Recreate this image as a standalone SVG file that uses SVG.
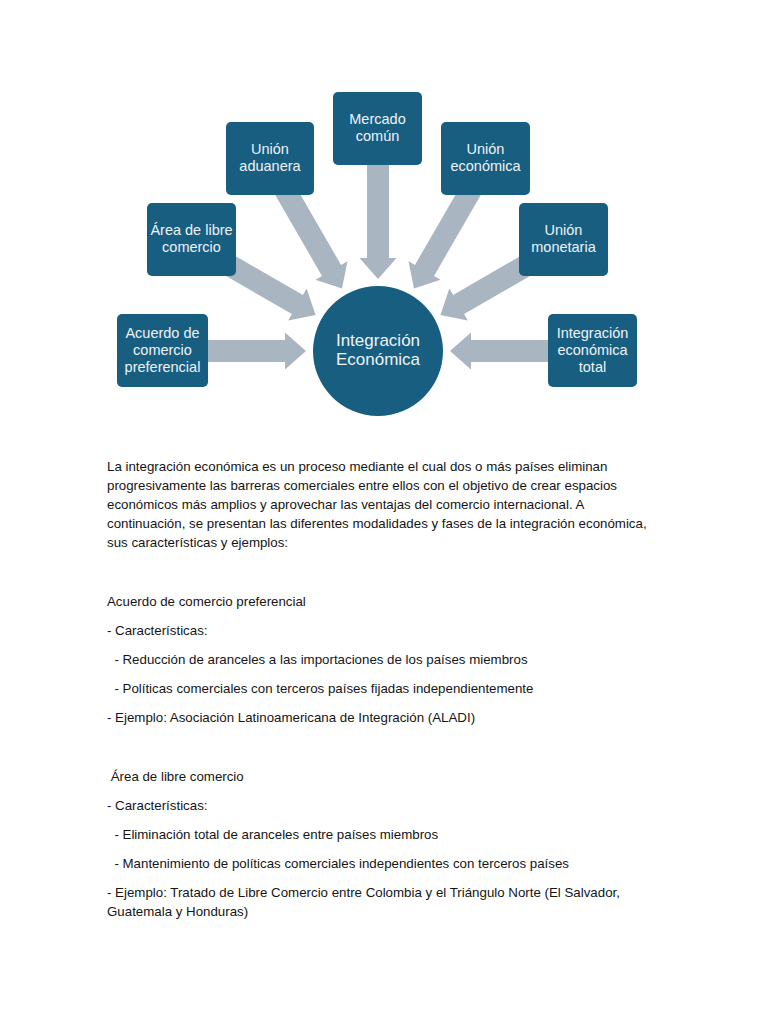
<svg xmlns="http://www.w3.org/2000/svg" xmlns:xlink="http://www.w3.org/1999/xlink" width="768" height="1024" viewBox="0 0 768 1024">
<style>
.box{fill:#185e81;}
.bt{font-family:"Liberation Sans",Arial,sans-serif;font-size:14.5px;fill:#eef3f6;text-anchor:middle;}
.ct{font-family:"Liberation Sans",Arial,sans-serif;font-size:17px;fill:#eef3f6;text-anchor:middle;}
.arr{fill:#a9b5c1;}
.p{font-family:"Liberation Sans",Arial,sans-serif;font-size:13.3px;fill:#151515;}
</style>
<defs>
<path id="arrow" d="M-120,-11 H-21 V-18.5 L0,0 L-21,18.5 V11 H-120 Z"/>
</defs>
<rect width="768" height="1024" fill="#ffffff"/>
<g id="connectors" class="arr">
<use xlink:href="#arrow" transform="translate(306,351)"/>
<use xlink:href="#arrow" transform="translate(315.6,315) rotate(30)"/>
<use xlink:href="#arrow" transform="translate(342,288.6) rotate(60)"/>
<use xlink:href="#arrow" transform="translate(378,279) rotate(90)"/>
<use xlink:href="#arrow" transform="translate(414,288.6) rotate(120)"/>
<use xlink:href="#arrow" transform="translate(440.4,315) rotate(150)"/>
<use xlink:href="#arrow" transform="translate(450,351) rotate(180)"/>
</g>
<g id="node-center">
<circle class="box" cx="378" cy="351" r="65"/>
<text class="ct" x="378" y="346">Integración</text>
<text class="ct" x="378" y="365">Económica</text>
</g>
<g id="node-acuerdo">
<rect class="box" x="117" y="314" width="91" height="73" rx="5"/>
<text class="bt" x="162.5" y="338">Acuerdo de</text>
<text class="bt" x="162.5" y="355">comercio</text>
<text class="bt" x="162.5" y="372">preferencial</text>
</g>
<g id="node-area">
<rect class="box" x="147" y="203" width="89" height="73" rx="5"/>
<text class="bt" x="191.5" y="235">Área de libre</text>
<text class="bt" x="191.5" y="252">comercio</text>
</g>
<g id="node-aduanera">
<rect class="box" x="226" y="122" width="88" height="73" rx="5"/>
<text class="bt" x="270" y="154">Unión</text>
<text class="bt" x="270" y="171">aduanera</text>
</g>
<g id="node-mercado">
<rect class="box" x="333" y="92" width="89" height="73" rx="5"/>
<text class="bt" x="377.5" y="124">Mercado</text>
<text class="bt" x="377.5" y="141">común</text>
</g>
<g id="node-economica">
<rect class="box" x="441" y="122" width="89" height="73" rx="5"/>
<text class="bt" x="485.5" y="154">Unión</text>
<text class="bt" x="485.5" y="171">económica</text>
</g>
<g id="node-monetaria">
<rect class="box" x="519" y="203" width="89" height="73" rx="5"/>
<text class="bt" x="563.5" y="235">Unión</text>
<text class="bt" x="563.5" y="252">monetaria</text>
</g>
<g id="node-total">
<rect class="box" x="548" y="314" width="89" height="73" rx="5"/>
<text class="bt" x="592.5" y="338">Integración</text>
<text class="bt" x="592.5" y="355">económica</text>
<text class="bt" x="592.5" y="372">total</text>
</g>
<g id="body-text" class="p">
<text x="107" y="471">La integración económica es un proceso mediante el cual dos o más países eliminan</text>
<text x="107" y="490">progresivamente las barreras comerciales entre ellos con el objetivo de crear espacios</text>
<text x="107" y="509">económicos más amplios y aprovechar las ventajas del comercio internacional. A</text>
<text x="107" y="528">continuación, se presentan las diferentes modalidades y fases de la integración económica,</text>
<text x="107" y="547">sus características y ejemplos:</text>
<text x="107" y="606">Acuerdo de comercio preferencial</text>
<text x="107" y="635">- Características:</text>
<text x="107" y="664" xml:space="preserve">  - Reducción de aranceles a las importaciones de los países miembros</text>
<text x="107" y="693" xml:space="preserve">  - Políticas comerciales con terceros países fijadas independientemente</text>
<text x="107" y="722">- Ejemplo: Asociación Latinoamericana de Integración (ALADI)</text>
<text x="107" y="781" xml:space="preserve"> Área de libre comercio</text>
<text x="107" y="810">- Características:</text>
<text x="107" y="839" xml:space="preserve">  - Eliminación total de aranceles entre países miembros</text>
<text x="107" y="868" xml:space="preserve">  - Mantenimiento de políticas comerciales independientes con terceros países</text>
<text x="107" y="897">- Ejemplo: Tratado de Libre Comercio entre Colombia y el Triángulo Norte (El Salvador,</text>
<text x="107" y="916">Guatemala y Honduras)</text>
</g>
</svg>
